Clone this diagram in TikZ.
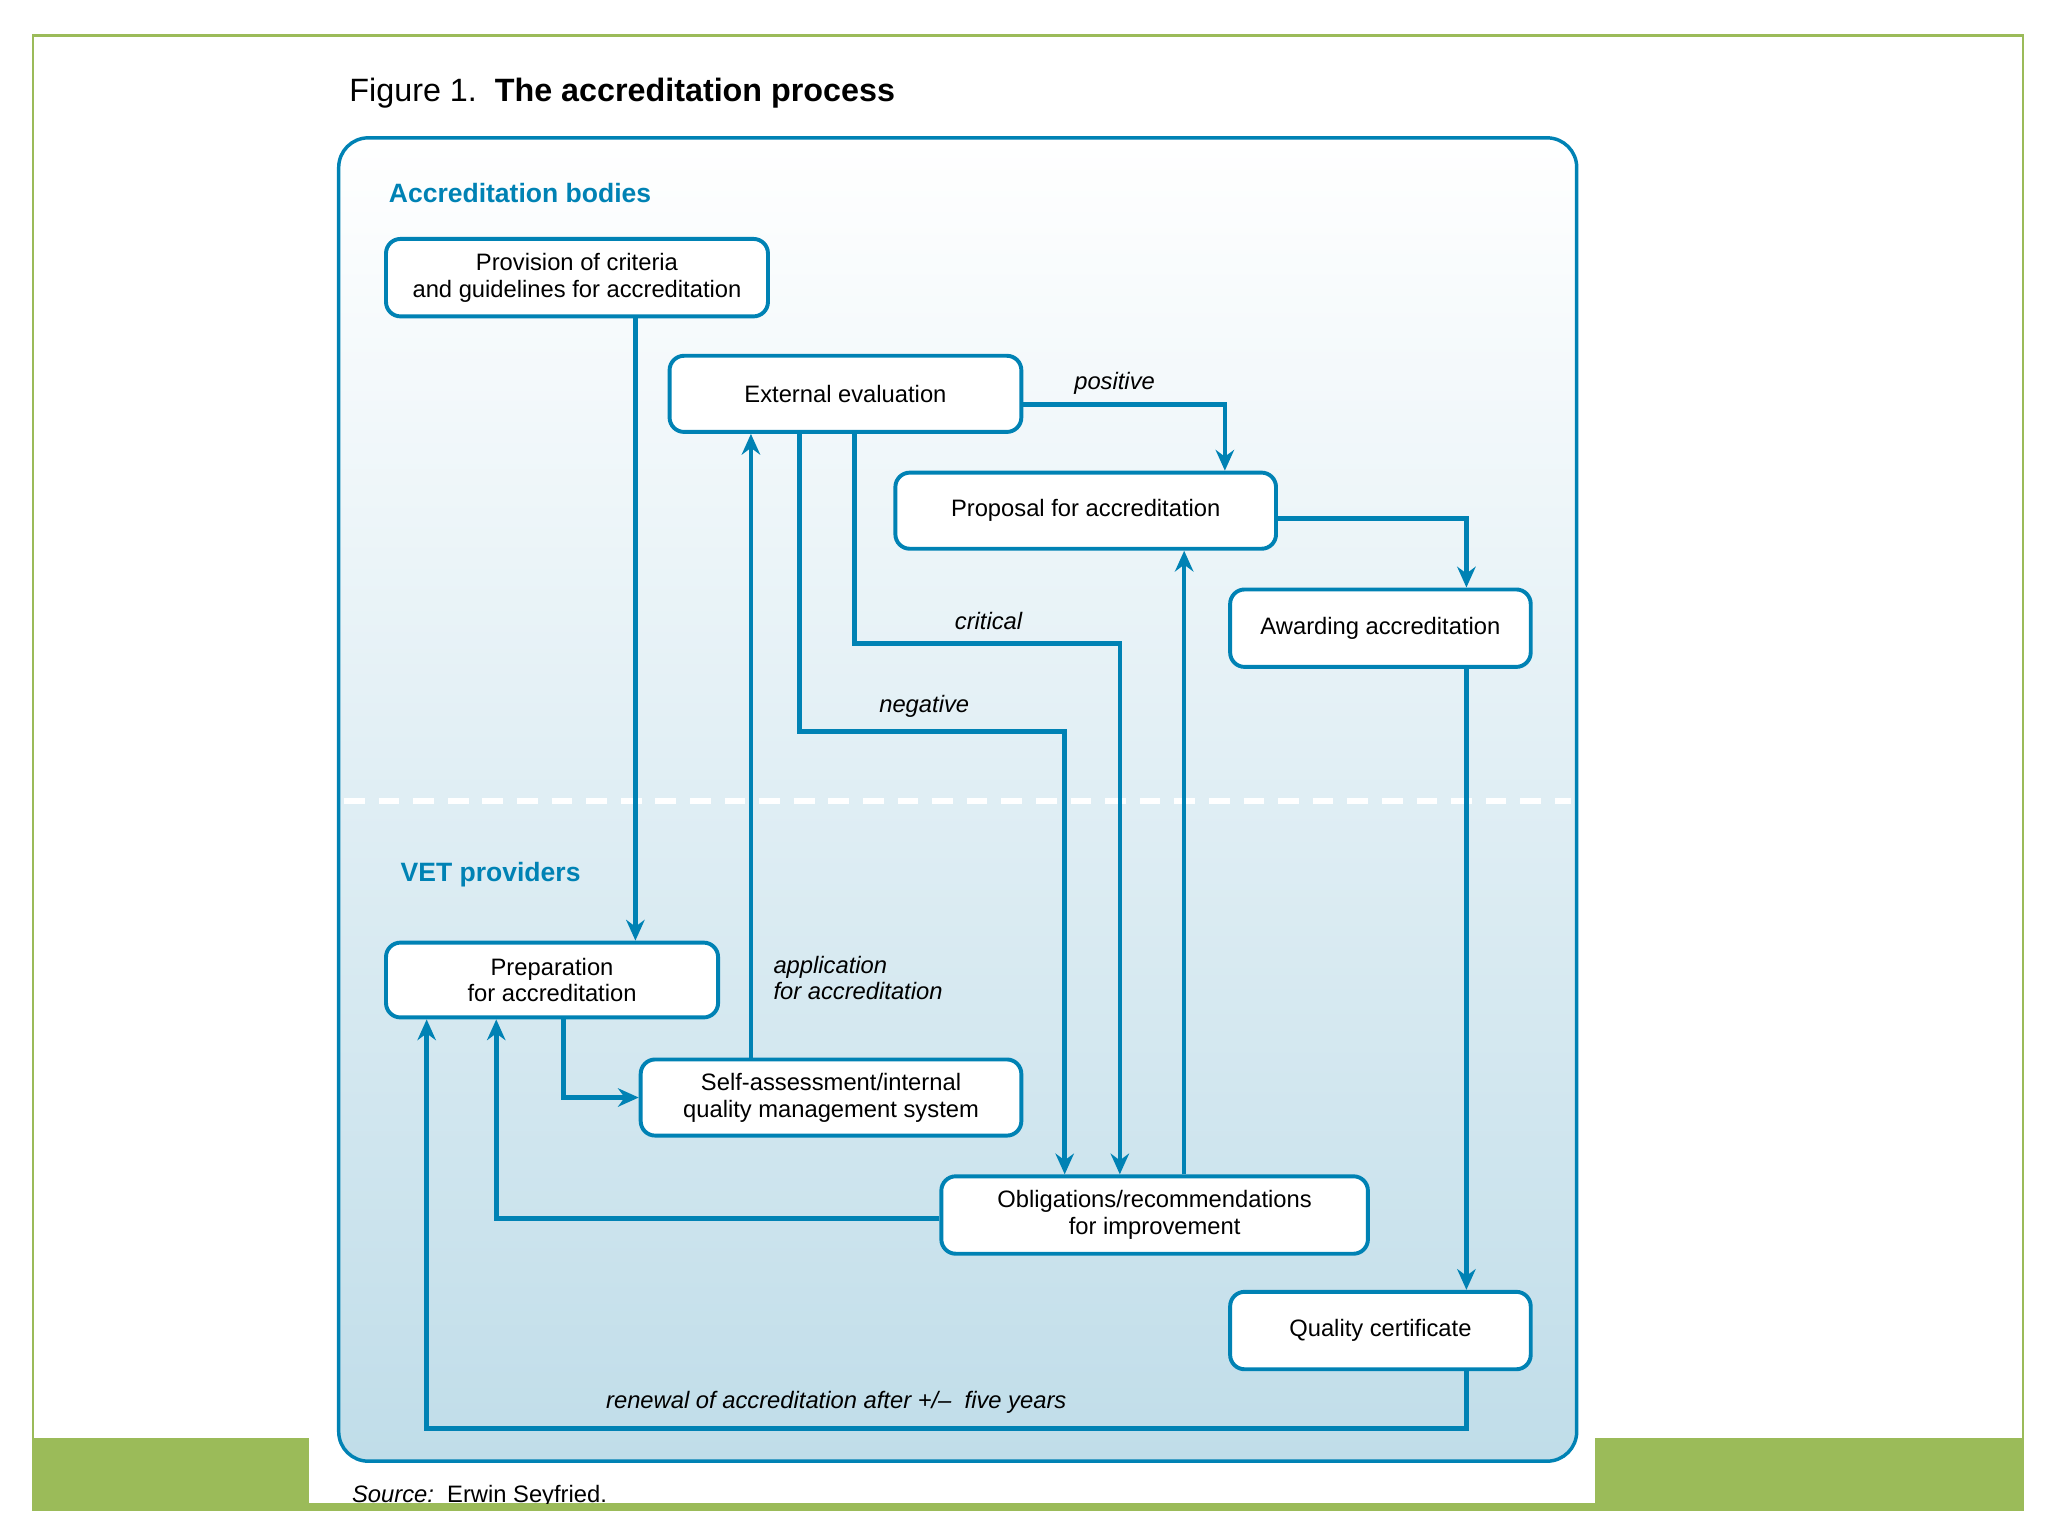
\documentclass[tikz,border=0pt]{standalone}
\usepackage{fontspec}
\setmainfont{Liberation Sans}
\usetikzlibrary{arrows.meta}
\definecolor{acblue}{RGB}{0,130,180}
\definecolor{acgreen}{RGB}{155,187,89}
\definecolor{aclight}{RGB}{192,221,233}
\tikzset{
  box/.style={draw=acblue, line width=1.7pt, rounded corners=0.22cm, fill=white,
    align=center, font=\fontsize{10.3}{11.6}\selectfont, inner sep=0pt},
  flow/.style={draw=acblue, line width=2pt, -{Stealth[length=9pt,width=8pt]}},
  lab/.style={font=\fontsize{10.3}{11.6}\selectfont\itshape, align=left},
  head/.style={font=\fontsize{11.5}{13}\selectfont\bfseries, text=acblue, anchor=west}
}
\begin{document}
\begin{tikzpicture}[x=0.02cm, y=-0.02cm]
\useasboundingbox (0,0) rectangle (1560,1170);
\fill[white] (0,0) rectangle (1560,1170);
% green frame
\fill[acgreen] (25,1095) rectangle (1541,1150);
\fill[white] (235,1095) rectangle (1215,1145);
\draw[acgreen, line width=1pt] (25,27) rectangle (1541,1150);
\node[anchor=west, font=\fontsize{14}{16}\selectfont] (title) at (260,71)
  {Figure 1.\ \ \textbf{The accreditation process}};
% panel
\shade[top color=white, bottom color=aclight, rounded corners=0.45cm]
  (258,105) rectangle (1201,1113);
\draw[white, line width=2.5pt, dash pattern=on 9pt off 6pt] (262,610) -- (1197,610);
\draw[acblue, line width=1.5pt, rounded corners=0.45cm] (258,105) rectangle (1201,1113);
\node[head] (hab) at (290,147) {Accreditation bodies};
\node[head] (hvet) at (299,666) {VET providers};
% boxes
\node[box, minimum width=5.82cm, minimum height=1.18cm] (P) at (439.5,211.5)
  {Provision of criteria\\and guidelines for accreditation};
\node[box, minimum width=5.36cm, minimum height=1.16cm] (E) at (644,300) {External evaluation};
\node[box, minimum width=5.8cm, minimum height=1.16cm] (Pr) at (827,389) {Proposal for accreditation};
\node[box, minimum width=4.58cm, minimum height=1.18cm] (A) at (1051.5,478.5) {Awarding accreditation};
\node[box, minimum width=5.06cm, minimum height=1.14cm] (Prep) at (420.5,746.5)
  {Preparation\\for accreditation};
\node[box, minimum width=5.8cm, minimum height=1.16cm] (S) at (633,836)
  {Self-assessment/internal\\quality management system};
\node[box, minimum width=6.5cm, minimum height=1.18cm] (O) at (879.5,925.5)
  {Obligations/recommendations\\for improvement};
\node[box, minimum width=4.58cm, minimum height=1.18cm] (Q) at (1051.5,1013.5) {Quality certificate};
% connectors
\draw[flow] (P.south -| 484,0) -- (Prep.north -| 484,0);
\draw[flow] (S.north -| 572,0) -- (E.south -| 572,0);
\draw[flow] (E.east |- 0,308) -| (Pr.north -| 933,0);
\draw[flow] (Pr.east |- 0,395) -| (A.north -| 1117,0);
\draw[flow] (E.south -| 651,0) |- (853,490) -- (O.north -| 853,0);
\draw[flow] (E.south -| 609,0) |- (811,557) -- (O.north -| 811,0);
\draw[flow] (O.north -| 902,0) -- (Pr.south -| 902,0);
\draw[flow] (A.south -| 1117,0) -- (Q.north -| 1117,0);
\draw[flow] (Prep.south -| 429,0) |- (S.west |- 0,836);
\draw[flow] (O.west |- 0,928) -| (Prep.south -| 378,0);
\draw[flow] (Q.south -| 1117,0) |- (325,1088) -- (Prep.south -| 325,0);
% labels
\node[lab] (lpos) at (849,292) {positive};
\node[lab] (lcrit) at (753,473) {critical};
\node[lab] (lneg) at (704,538) {negative};
\node[lab, anchor=west] (lapp) at (583,745) {application\\for accreditation};
\node[lab] (lren) at (637,1068) {renewal of accreditation after +/--\ \ five years};
\begin{scope}
\clip (235,1095) rectangle (1215,1145);
\node[anchor=west, font=\fontsize{10.3}{11.6}\selectfont] (src) at (262,1140)
  {\textit{Source:}\ \ Erwin Seyfried.};
\end{scope}
\end{tikzpicture}
\end{document}
